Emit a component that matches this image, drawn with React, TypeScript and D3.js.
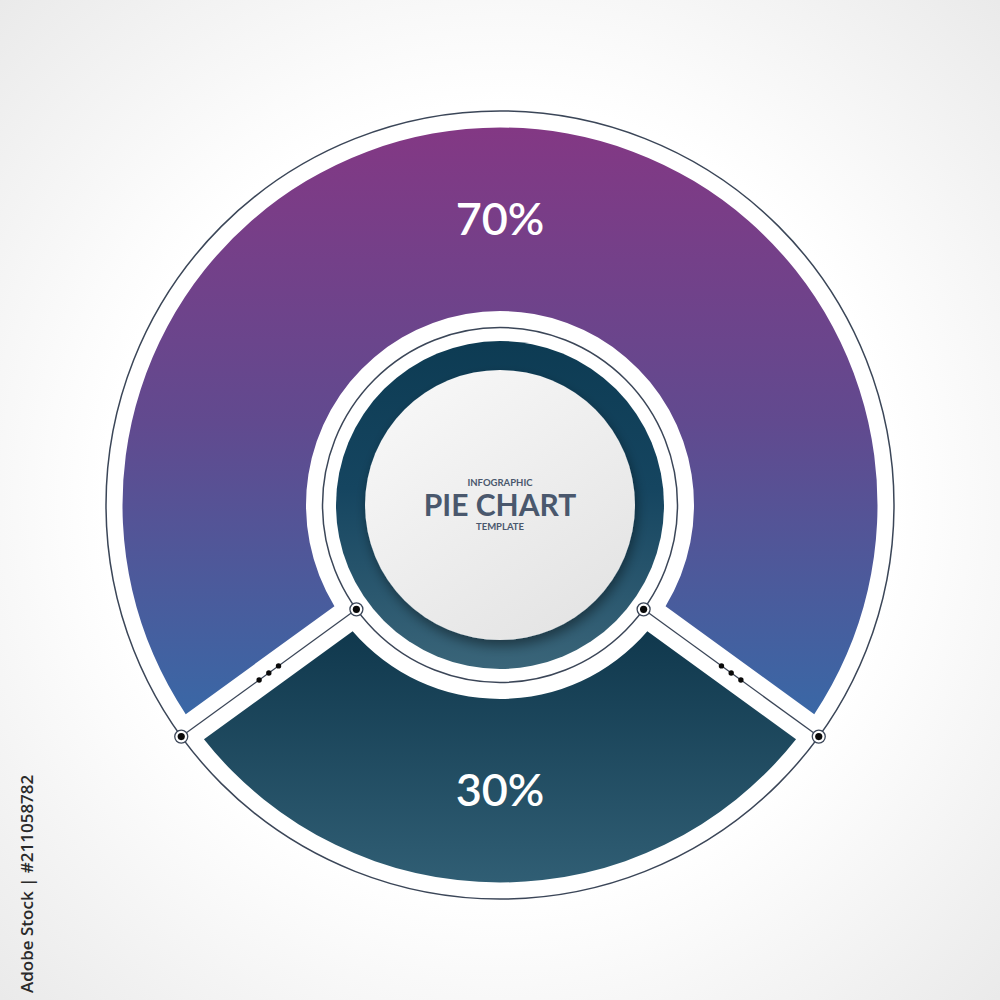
import React, { useEffect, useRef } from "react";
import * as d3 from "d3";

const segmentLabels = ["70%", "30%"];
const segmentValues = [70, 30];
const centreLines = ["INFOGRAPHIC", "PIE CHART", "TEMPLATE"];
const creditText = "Adobe Stock | #211058782";

export default function App() {
  const ref = useRef<SVGSVGElement | null>(null);

  useEffect(() => {
    const W = 1000, H = 1000;
    const cx = 500, cy = 505;
    const rOuterLine = 394;
    const rOuter = 377.5;
    const rInner = 194;
    const rInnerLine = 177.5;
    const rRing = 164;
    const rCore = 135;
    const gap = 31;

    const svg = d3.select(ref.current);
    svg.selectAll("*").remove();
    const defs = svg.append("defs");

    const bg = defs.append("radialGradient").attr("id", "bg").attr("cx", "50%").attr("cy", "50%").attr("r", "72%");
    bg.append("stop").attr("offset", "0.55").attr("stop-color", "#ffffff");
    bg.append("stop").attr("offset", "1").attr("stop-color", "#e9e9e9");

    // gradients in the translated (centre-origin) coordinate space
    const g1 = defs.append("linearGradient").attr("id", "g70").attr("gradientUnits", "userSpaceOnUse")
      .attr("x1", 0).attr("x2", 0).attr("y1", -rOuter).attr("y2", 720 - cy);
    g1.append("stop").attr("offset", 0).attr("stop-color", "#833884");
    g1.append("stop").attr("offset", 0.5).attr("stop-color", "#614a8f");
    g1.append("stop").attr("offset", 1).attr("stop-color", "#3968a6");

    const g2 = defs.append("linearGradient").attr("id", "g30").attr("gradientUnits", "userSpaceOnUse")
      .attr("x1", 0).attr("x2", 0).attr("y1", 625 - cy).attr("y2", rOuter);
    g2.append("stop").attr("offset", 0).attr("stop-color", "#0f374c");
    g2.append("stop").attr("offset", 1).attr("stop-color", "#305e74");

    const g3 = defs.append("linearGradient").attr("id", "gring").attr("gradientUnits", "userSpaceOnUse")
      .attr("x1", 0).attr("x2", 0).attr("y1", -rRing).attr("y2", rRing);
    g3.append("stop").attr("offset", 0).attr("stop-color", "#0d3b53");
    g3.append("stop").attr("offset", 0.45).attr("stop-color", "#154560");
    g3.append("stop").attr("offset", 1).attr("stop-color", "#3a6579");

    const g4 = defs.append("linearGradient").attr("id", "gcore").attr("x1", "20%").attr("y1", "10%").attr("x2", "80%").attr("y2", "95%");
    g4.append("stop").attr("offset", 0).attr("stop-color", "#f6f6f6");
    g4.append("stop").attr("offset", 1).attr("stop-color", "#e4e4e4");

    const sh = defs.append("filter").attr("id", "shadow").attr("x", "-30%").attr("y", "-30%").attr("width", "160%").attr("height", "160%");
    sh.append("feDropShadow").attr("dx", 2).attr("dy", 6).attr("stdDeviation", 6)
      .attr("flood-color", "#000").attr("flood-opacity", 0.4);

    svg.append("rect").attr("width", W).attr("height", H).attr("fill", "url(#bg)");

    const root = svg.append("g").attr("transform", `translate(${cx},${cy})`);

    const pie = d3.pie<number>().sort(null).value((d) => d)
      .startAngle(-0.7 * Math.PI).endAngle(1.3 * Math.PI);
    const arcs = pie(segmentValues);
    const padR = 300;
    const arc = d3.arc<d3.PieArcDatum<number>>()
      .innerRadius(rInner).outerRadius(rOuter)
      .padRadius(padR).padAngle(gap / padR);

    const line = "#3b4658";
    root.append("circle").attr("r", rOuterLine).attr("fill", "none").attr("stroke", line).attr("stroke-width", 1.5);

    const fills = ["url(#g70)", "url(#g30)"];
    root.selectAll("path.seg").data(arcs).enter().append("path")
      .attr("class", "seg").attr("d", (d) => arc(d) as string).attr("fill", (_d, i) => fills[i]);

    root.append("circle").attr("r", rInnerLine).attr("fill", "none").attr("stroke", line).attr("stroke-width", 1.5);
    root.append("circle").attr("r", rRing).attr("fill", "url(#gring)");
    root.append("circle").attr("r", rCore).attr("fill", "url(#gcore)").attr("filter", "url(#shadow)");

    const pt = (a: number, r: number) => [r * Math.sin(a), -r * Math.cos(a)];
    const mid = (rInner + rOuter) / 2;
    arcs.forEach((d) => {
      const a = d.startAngle;
      const [x0, y0] = pt(a, rInnerLine);
      const [x1, y1] = pt(a, rOuterLine);
      root.append("line").attr("x1", x0).attr("y1", y0).attr("x2", x1).attr("y2", y1)
        .attr("stroke", line).attr("stroke-width", 1.3);
      [[x0, y0], [x1, y1]].forEach(([x, y]) => {
        root.append("circle").attr("cx", x).attr("cy", y).attr("r", 6.5).attr("fill", "#fff").attr("stroke", line).attr("stroke-width", 1.3);
        root.append("circle").attr("cx", x).attr("cy", y).attr("r", 3.6).attr("fill", "#0a0a0a");
      });
      [-12, 0, 12].forEach((o) => {
        const [x, y] = pt(a, mid + o);
        root.append("circle").attr("cx", x).attr("cy", y).attr("r", 2.7).attr("fill", "#0a0a0a");
      });
    });

    root.selectAll("text.lbl").data(arcs).enter().append("text")
      .attr("class", "lbl")
      .attr("x", (d) => arc.centroid(d)[0])
      .attr("y", (d) => arc.centroid(d)[1])
      .attr("dy", "0.34em")
      .attr("text-anchor", "middle")
      .attr("font-family", "Lato, sans-serif")
      .attr("font-weight", 600)
      .attr("font-size", 45)
      .attr("fill", "#ffffff")
      .text((_d, i) => segmentLabels[i]);

    const cfg = [
      { y: -19, size: 9.5, weight: 700 },
      { y: 11, size: 30, weight: 700 },
      { y: 25, size: 9.5, weight: 700 },
    ];
    centreLines.forEach((t, i) => {
      root.append("text").attr("x", 0).attr("y", cfg[i].y).attr("text-anchor", "middle")
        .attr("font-family", "Lato, sans-serif").attr("font-weight", cfg[i].weight)
        .attr("font-size", cfg[i].size).attr("fill", "#4a586d").text(t);
    });

    svg.append("text").attr("transform", "translate(33,993) rotate(-90)")
      .attr("font-family", "'Open Sans', sans-serif").attr("font-weight", 600)
      .attr("font-size", 17).attr("fill", "#2a2a2a").text(creditText);
  }, []);

  return (
    <svg ref={ref} width={1000} height={1000} style={{ position: "absolute", left: 0, top: 0, display: "block" }} />
  );
}
